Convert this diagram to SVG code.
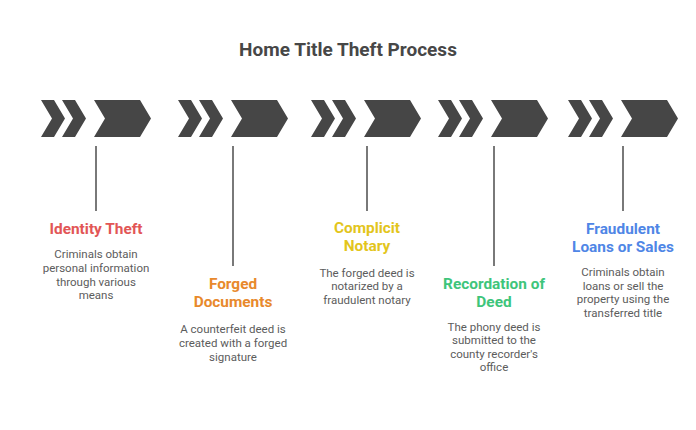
<svg xmlns="http://www.w3.org/2000/svg" width="696" height="430" viewBox="0 0 696 430">
<style>
.chev{fill:#464646}
.conn line{stroke:#4d4d4d;stroke-width:1.5}
.title{font-family:Roboto,"Liberation Sans",sans-serif;font-weight:bold;font-size:19px;fill:#474747;text-anchor:middle}
.head{font-family:Roboto,"Liberation Sans",sans-serif;font-weight:bold;font-size:15.4px;text-anchor:middle}
.desc{font-family:Roboto,"Liberation Sans",sans-serif;font-size:11.5px;fill:#5c5c5c;text-anchor:middle}
</style>
<defs>
<g id="arrows">
<polygon class="chev" points="0,100 13,100 24,118.5 13,137 0,137 11,118.5"/>
<polygon class="chev" points="21,100 34,100 45,118.5 34,137 21,137 32,118.5"/>
<polygon class="chev" points="53,100 99,100 110,118.5 99,137 53,137 64,118.5"/>
</g>
</defs>
<rect width="696" height="430" fill="#ffffff"/>
<text class="title" x="348" y="56">Home Title Theft Process</text>
<g id="connectors" class="conn">
<line x1="96" y1="146" x2="96" y2="211"/>
<line x1="233" y1="146" x2="233" y2="266"/>
<line x1="367" y1="146" x2="367" y2="211"/>
<line x1="494" y1="146" x2="494" y2="266"/>
<line x1="623" y1="146" x2="623" y2="211"/>
</g>
<g id="step1">
<use href="#arrows" x="41"/>
<text class="head" x="96" y="234" fill="#e25656">Identity Theft</text>
<text class="desc" x="96" y="258">Criminals obtain</text>
<text class="desc" x="96" y="272">personal information</text>
<text class="desc" x="96" y="286">through various</text>
<text class="desc" x="96" y="299">means</text>
</g>
<g id="step2">
<use href="#arrows" x="178"/>
<text class="head" x="233" y="289" fill="#e8892c">Forged</text>
<text class="head" x="233" y="307" fill="#e8892c">Documents</text>
<text class="desc" x="233" y="333">A counterfeit deed is</text>
<text class="desc" x="233" y="347">created with a forged</text>
<text class="desc" x="233" y="361">signature</text>
</g>
<g id="step3">
<use href="#arrows" x="311"/>
<text class="head" x="367" y="233" fill="#e3c51c">Complicit</text>
<text class="head" x="367" y="251" fill="#e3c51c">Notary</text>
<text class="desc" x="367" y="277">The forged deed is</text>
<text class="desc" x="367" y="290">notarized by a</text>
<text class="desc" x="367" y="304">fraudulent notary</text>
</g>
<g id="step4">
<use href="#arrows" x="438"/>
<text class="head" x="494" y="289" fill="#3ec57b">Recordation of</text>
<text class="head" x="494" y="307" fill="#3ec57b">Deed</text>
<text class="desc" x="494" y="331">The phony deed is</text>
<text class="desc" x="494" y="344">submitted to the</text>
<text class="desc" x="494" y="358">county recorder's</text>
<text class="desc" x="494" y="371">office</text>
</g>
<g id="step5">
<use href="#arrows" x="568"/>
<text class="head" x="623" y="234" fill="#4f86e6">Fraudulent</text>
<text class="head" x="623" y="252" fill="#4f86e6">Loans or Sales</text>
<text class="desc" x="623" y="276">Criminals obtain</text>
<text class="desc" x="623" y="290">loans or sell the</text>
<text class="desc" x="623" y="303">property using the</text>
<text class="desc" x="623" y="317">transferred title</text>
</g>
</svg>
